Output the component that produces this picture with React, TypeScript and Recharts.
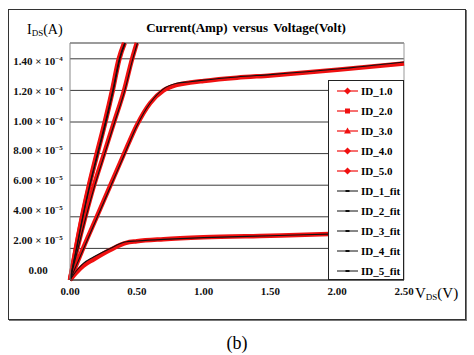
import React from 'react';
import {
  LineChart,
  Line,
  XAxis,
  YAxis,
  CartesianGrid,
  Legend,
  ReferenceLine
} from 'recharts';

// currents are in units of 1e-5 A
const vdsTicks = [0, 0.5, 1.0, 1.5, 2.0, 2.5];
const vdsTickLabels = ['0.00', '0.50', '1.00', '1.50', '2.00', '2.50'];
const idsTicks = [0, 2, 4, 6, 8, 10, 12, 14];
const idsMantissa = ['0.00', '2.00', '4.00', '6.00', '8.00', '1.00', '1.20', '1.40'];
const idsExponent = ['', '−5', '−5', '−5', '−5', '−4', '−4', '−4'];

// ID_1 : lowest curve
const vds1 = [0, 0.05, 0.1, 0.175, 0.3, 0.42, 0.5, 0.7, 1.0, 1.5, 2.0, 2.5];
const ids1 = [0, 0.5, 0.9, 1.3, 1.9, 2.35, 2.45, 2.58, 2.7, 2.8, 2.92, 3.08];
const ids1Fit = [0, 0.6, 1.05, 1.45, 2.0, 2.42, 2.47, 2.57, 2.68, 2.8, 2.92, 3.04];

// ID_2 : middle curve
const vds2 = [0, 0.1, 0.2, 0.3, 0.4, 0.5, 0.6, 0.7, 0.8, 0.9, 1.0, 1.25, 1.5, 2.0, 2.5];
const ids2 = [0, 2.05, 4.0, 5.95, 7.9, 9.8, 11.2, 12.0, 12.35, 12.5, 12.6, 12.8, 12.95, 13.3, 13.7];
const ids2Fit = [0, 1.95, 3.9, 5.85, 7.8, 9.75, 11.2, 12.1, 12.45, 12.55, 12.65, 12.85, 13.0, 13.35, 13.8];

// ID_3..ID_5 : steep curves, voltage read at each current level
const idsSteep = [0, 2, 4, 6, 8, 10, 12, 14, 15];
const vds3 = [0, 0.055, 0.115, 0.18, 0.255, 0.33, 0.405, 0.465, 0.5];
const vds3Fit = [0, 0.06, 0.12, 0.186, 0.26, 0.335, 0.41, 0.47, 0.505];
const vds4 = [0, 0.045, 0.092, 0.145, 0.205, 0.265, 0.32, 0.37, 0.41];
const vds4Fit = [0, 0.05, 0.097, 0.15, 0.21, 0.27, 0.325, 0.374, 0.414];
const vds5 = [0, 0.044, 0.09, 0.142, 0.2, 0.26, 0.315, 0.365, 0.405];
const vds5Fit = [0, 0.048, 0.095, 0.147, 0.205, 0.265, 0.32, 0.369, 0.409];

const pts = (xs: number[], ys: number[]) => xs.map((v, k) => ({ v, i: ys[k] }));

const RED = '#f01010';
const serif = '"Liberation Serif", "DejaVu Serif", serif';

const measured = [
  { name: 'ID_1.0', data: pts(vds1, ids1), marker: 'diamond' },
  { name: 'ID_2.0', data: pts(vds2, ids2), marker: 'square' },
  { name: 'ID_3.0', data: pts(vds3, idsSteep), marker: 'triangle' },
  { name: 'ID_4.0', data: pts(vds4, idsSteep), marker: 'diamond' },
  { name: 'ID_5.0', data: pts(vds5, idsSteep), marker: 'diamond' }
];

const fits = [
  { name: 'ID_1_fit', data: pts(vds1, ids1Fit) },
  { name: 'ID_2_fit', data: pts(vds2, ids2Fit) },
  { name: 'ID_3_fit', data: pts(vds3Fit, idsSteep) },
  { name: 'ID_4_fit', data: pts(vds4Fit, idsSteep) },
  { name: 'ID_5_fit', data: pts(vds5Fit, idsSteep) }
];

const MarkerIcon = ({ kind }: { kind: string }) => {
  if (kind === 'square') return <rect x={8} y={2.5} width={5} height={5} fill={RED} />;
  if (kind === 'triangle') return <polygon points="10.5,1.5 14,7.5 7,7.5" fill={RED} />;
  return <polygon points="10.5,1.5 14,5 10.5,8.5 7,5" fill={RED} />;
};

const LegendBox = () => (
  <div style={{ fontFamily: serif, fontWeight: 'bold', fontSize: 11, paddingLeft: 8 }}>
    {measured.map((s) => (
      <div key={s.name} style={{ height: 20, display: 'flex', alignItems: 'center' }}>
        <svg width={21} height={10} style={{ marginRight: 3 }}>
          <line x1={0} y1={5} x2={21} y2={5} stroke={RED} strokeWidth={1.2} />
          <MarkerIcon kind={s.marker} />
        </svg>
        <span>{s.name}</span>
      </div>
    ))}
    {fits.map((s) => (
      <div key={s.name} style={{ height: 20, display: 'flex', alignItems: 'center' }}>
        <svg width={21} height={10} style={{ marginRight: 3 }}>
          <line x1={0} y1={5} x2={21} y2={5} stroke="#111" strokeWidth={1} />
          <rect x={8.5} y={4} width={4} height={2} fill="#111" />
        </svg>
        <span>{s.name}</span>
      </div>
    ))}
  </div>
);

const YTick = ({ y, index }: any) => {
  const shift = -10 + 1.7 * index;
  return (
    <text x={38} y={y + shift} dy={4} textAnchor="middle" fontFamily={serif} fontWeight="bold" fontSize={11} fill="#111">
      {idsMantissa[index]}
      {idsExponent[index] && (
        <>
          {' × 10'}
          <tspan dy={-4} fontSize={7}>{idsExponent[index]}</tspan>
        </>
      )}
    </text>
  );
};

const XTick = ({ x, y, index }: any) => (
  <text x={x} y={y} dy={7} textAnchor="middle" fontFamily={serif} fontWeight="bold" fontSize={11} fill="#111">
    {vdsTickLabels[index]}
  </text>
);

const App = () => (
  <div style={{ position: 'absolute', left: 0, top: 0, width: 474, height: 355, background: '#fff' }}>
    <div
      style={{
        position: 'absolute',
        left: 8,
        top: 9,
        width: 458,
        height: 311,
        border: '1px solid #333',
        boxSizing: 'border-box',
        boxShadow: '1px 1px 0 #777'
      }}
    />
    <LineChart width={474} height={355} margin={{ top: 43, right: 70, bottom: 50, left: 0 }}>
      <CartesianGrid horizontal vertical={false} stroke="#3a3a3a" strokeWidth={1} />
      <XAxis
        type="number"
        dataKey="v"
        domain={[0, 2.5]}
        ticks={vdsTicks}
        height={25}
        tick={<XTick />}
        tickLine={false}
        axisLine={{ stroke: '#333' }}
        interval={0}
      />
      <YAxis
        type="number"
        dataKey="i"
        domain={[0, 15]}
        ticks={idsTicks}
        width={70}
        tick={<YTick />}
        tickLine={false}
        axisLine={{ stroke: '#888' }}
        interval={0}
      />
      <ReferenceLine y={15} stroke="#999" />
      <ReferenceLine x={2.5} stroke="#999" />
      {measured.map((s) => (
        <Line
          key={s.name}
          name={s.name}
          data={s.data}
          dataKey="i"
          type="monotone"
          stroke={RED}
          strokeWidth={4.5}
          dot={false}
          isAnimationActive={false}
        />
      ))}
      {fits.map((s) => (
        <Line
          key={s.name}
          name={s.name}
          data={s.data}
          dataKey="i"
          type="monotone"
          stroke="#111"
          strokeWidth={1.1}
          dot={false}
          isAnimationActive={false}
        />
      ))}
      <Legend
        layout="vertical"
        verticalAlign="middle"
        align="center"
        content={() => <LegendBox />}
        wrapperStyle={{
          left: 328,
          top: 80,
          width: 76,
          height: 200,
          border: '1px solid #222',
          background: '#fff',
          boxSizing: 'border-box'
        }}
      />
    </LineChart>
    <div
      style={{
        position: 'absolute',
        left: 246,
        top: 20,
        transform: 'translateX(-50%)',
        whiteSpace: 'nowrap',
        fontFamily: serif,
        fontWeight: 'bold',
        fontSize: 13,
        lineHeight: '16px',
        wordSpacing: 2
      }}
    >
      Current(Amp) versus Voltage(Volt)
    </div>
    <div style={{ position: 'absolute', left: 27, top: 22, fontFamily: serif, fontSize: 14, lineHeight: '16px', whiteSpace: 'nowrap' }}>
      I<span style={{ fontSize: 9, verticalAlign: -2 }}>DS</span>(A)
    </div>
    <div style={{ position: 'absolute', left: 415, top: 285, fontFamily: serif, fontSize: 15, lineHeight: '16px', whiteSpace: 'nowrap' }}>
      V<span style={{ fontSize: 9, verticalAlign: -2 }}>DS</span>(V)
    </div>
    <div style={{ position: 'absolute', left: 237, top: 333, transform: 'translateX(-50%)', fontFamily: serif, fontSize: 18, lineHeight: '20px' }}>
      (b)
    </div>
  </div>
);

export default App;
